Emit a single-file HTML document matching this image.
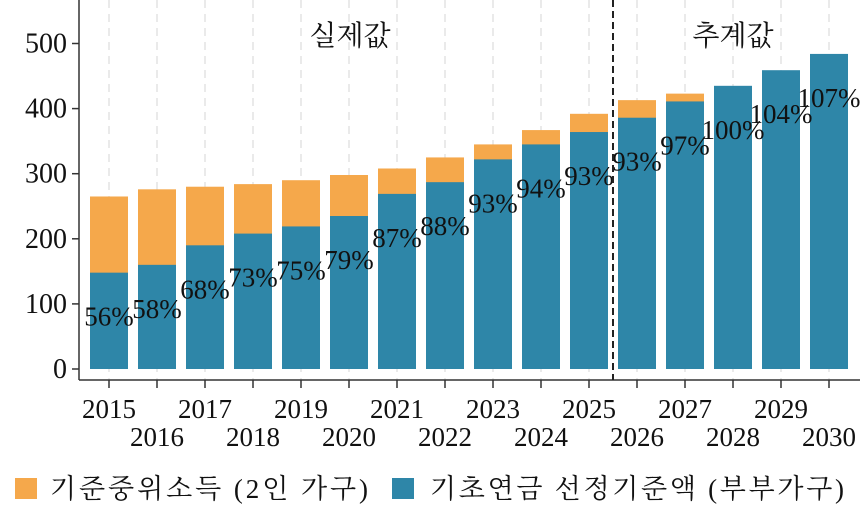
<!DOCTYPE html>
<html><head><meta charset="utf-8"><style>
html,body{margin:0;padding:0;background:#fff;}
svg{display:block;}
text{font-family:"Liberation Serif","Noto Serif CJK SC",serif;fill:#111;}
.ko{font-family:"Liberation Serif","Noto Serif CJK SC","Noto Sans CJK KR",serif;}
</style></head><body>
<svg id="chart" width="860" height="516" viewBox="0 0 860 516" xmlns="http://www.w3.org/2000/svg">
<g id="grid"></g>
<g id="bars"></g>
<g id="axes"></g>
<g id="labels"></g>
<text class="ko" x="350" y="45" font-size="28" text-anchor="middle">실제값</text>
<text class="ko" x="733" y="45" font-size="28" text-anchor="middle">추계값</text>
<line x1="613" y1="0" x2="613" y2="380" stroke="#222" stroke-width="2" stroke-dasharray="7,4"/>
<g>
<rect x="15" y="478" width="22" height="21" fill="#F5A84B"/>
<text class="ko" x="50" y="498" font-size="27" textLength="318" lengthAdjust="spacing">기준중위소득 (2인 가구)</text>
<rect x="392" y="478" width="22" height="21" fill="#2E86A8"/>
<text class="ko" x="430" y="498" font-size="27" textLength="414" lengthAdjust="spacing">기초연금 선정기준액 (부부가구)</text>
</g>
</svg>
<script>
const years = [2015,2016,2017,2018,2019,2020,2021,2022,2023,2024,2025,2026,2027,2028,2029,2030];
const thresholdValues = [148,160,190,208,219,235,269,287,322,345,364,386,411,435,459,484];
const medianIncomeValues = [265,276,280,284,290,298,308,325,345,367,392,413,423,0,0,0];
const pctLabels = ["56%","58%","68%","73%","75%","79%","87%","88%","93%","94%","93%","93%","97%","100%","104%","107%"];
const yTicks = [0,100,200,300,400,500];

const NS = "http://www.w3.org/2000/svg";
const x0 = 109, step = 48, bw = 38;
const y0 = 369, pxPerUnit = 0.651;
function xScale(i){ return x0 + i*step; }
function yScale(v){ return y0 - v*pxPerUnit; }
function mk(tag, attrs){ const e = document.createElementNS(NS, tag); for (const k in attrs) e.setAttribute(k, attrs[k]); return e; }

const grid = document.getElementById('grid');
const bars = document.getElementById('bars');
const axes = document.getElementById('axes');
const labels = document.getElementById('labels');

years.forEach((yr, i) => {
  const x = xScale(i);
  const gl = mk('line', {x1:x, y1:0, x2:x, y2:380, stroke:'#e4e4e4', 'stroke-width':1.5, 'stroke-dasharray':'8,6'});
  
  
  grid.appendChild(gl);

  if (medianIncomeValues[i] > 0) {
    const r = mk('rect', {x:x-bw/2, y:yScale(medianIncomeValues[i]), width:bw, height:yScale(0)-yScale(medianIncomeValues[i]), fill:'#F5A84B'});
    
    
    bars.appendChild(r);
  }
  const b = mk('rect', {x:x-bw/2, y:yScale(thresholdValues[i]), width:bw, height:yScale(0)-yScale(thresholdValues[i]), fill:'#2E86A8'});
  
  
  bars.appendChild(b);

  const tk = mk('line', {x1:x, y1:380, x2:x, y2:388, stroke:'#333', 'stroke-width':1.5});
  
  
  axes.appendChild(tk);

  const tl = mk('text', {x:x, y:(i%2===0)?418:446, 'font-size':27, 'text-anchor':'middle'});
  tl.textContent = yr;
  
  
  axes.appendChild(tl);

  const pl = mk('text', {x:x, y:yScale(thresholdValues[i])+44+9, 'font-size':27, 'text-anchor':'middle'});
  pl.textContent = pctLabels[i];
  
  
  labels.appendChild(pl);
});

yTicks.forEach(v => {
  const y = yScale(v);
  const t = mk('line', {x1:72, y1:y, x2:79, y2:y, stroke:'#333', 'stroke-width':1.5});
  
  
  axes.appendChild(t);
  const l = mk('text', {x:67, y:y+9, 'font-size':28, 'text-anchor':'end'});
  l.textContent = v;
  
  
  axes.appendChild(l);
});

const ya = mk('line', {x1:79, y1:0, x2:79, y2:380, stroke:'#333', 'stroke-width':1.5});


axes.appendChild(ya);
const xa = mk('line', {x1:79, y1:380, x2:860, y2:380, stroke:'#333', 'stroke-width':1.5});


axes.appendChild(xa);
</script>
</body></html>
